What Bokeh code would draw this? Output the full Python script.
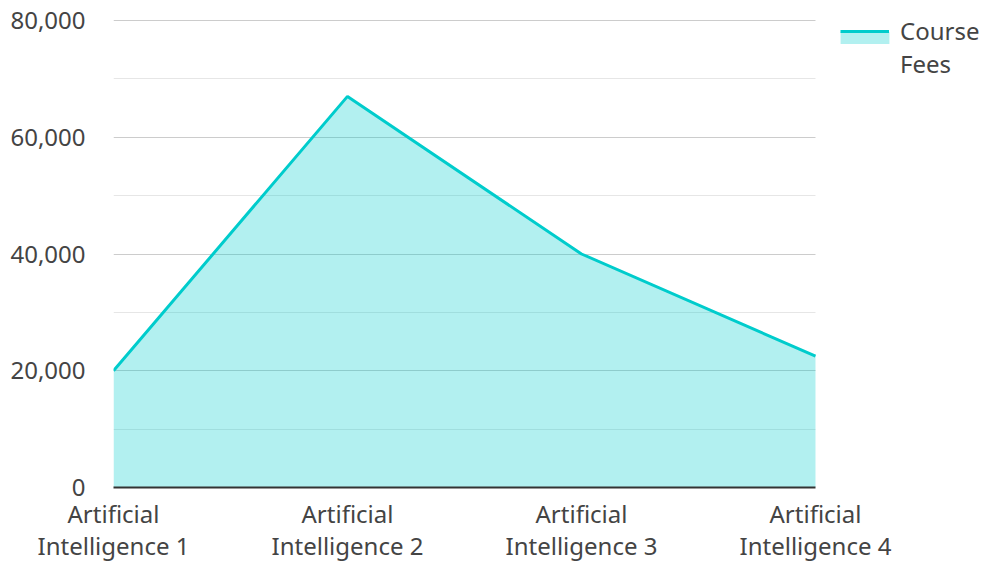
from bokeh.plotting import figure
from bokeh.models import ColumnDataSource, FixedTicker, NumeralTickFormatter, Legend, LegendItem, Range1d
from bokeh.embed import file_html
from bokeh.resources import INLINE

categories = ["Artificial\nIntelligence 1", "Artificial\nIntelligence 2",
              "Artificial\nIntelligence 3", "Artificial\nIntelligence 4"]
course_fees = [20000, 67000, 40000, 22500]
y_ticks = [0, 20000, 40000, 60000, 80000]
y_minor = [10000, 30000, 50000, 70000]
series_name = "Course\nFees"

xs = list(range(len(categories)))
src = ColumnDataSource(dict(x=xs, y=course_fees, base=[0] * len(xs)))

# layout geometry (pixels)
LEFT = 113
FRAME_W = 870      # frame runs to the right edge so the legend can sit in it
DATA_W = 702       # width covered by the categories
FRAME_H = 487
DATA_H = 467       # height covered by 0..80000
x_end = (len(categories) - 1) * FRAME_W / DATA_W
y_end = y_ticks[-1] * FRAME_H / DATA_H

p = figure(frame_width=FRAME_W, frame_height=FRAME_H, output_backend="svg", toolbar_location=None,
           x_range=Range1d(0, x_end), y_range=Range1d(0, y_end),
           min_border_left=LEFT, min_border_top=0, min_border_right=0, min_border_bottom=0)
p.outline_line_color = None
p.background_fill_color = "white"

FONT = "Noto Sans"
LABEL_COLOR = "#444444"

# grids
p.xgrid.visible = False
p.ygrid.ticker = FixedTicker(ticks=y_ticks, minor_ticks=y_minor)
p.ygrid.cross_bounds = (0, len(categories) - 1)
p.ygrid.grid_line_color = "#cccccc"
p.ygrid.grid_line_width = 1
p.ygrid.minor_grid_line_color = "#e6e6e6"
p.ygrid.minor_grid_line_width = 1

# y axis
p.yaxis.ticker = FixedTicker(ticks=y_ticks, minor_ticks=[])
p.yaxis.formatter = NumeralTickFormatter(format="0,0")
p.yaxis.axis_line_color = None
p.yaxis.major_tick_line_color = None
p.yaxis.minor_tick_line_color = None
p.yaxis.major_label_standoff = 22
p.yaxis.major_label_text_font = FONT
p.yaxis.major_label_text_font_size = "24px"
p.yaxis.major_label_text_color = LABEL_COLOR

# x axis
p.xaxis.ticker = FixedTicker(ticks=xs, minor_ticks=[])
p.xaxis.bounds = (0, len(categories) - 1)
p.xaxis.major_label_overrides = {i: c for i, c in zip(xs, categories)}
p.xaxis.axis_line_color = "#333333"
p.xaxis.axis_line_width = 2
p.xaxis.major_tick_line_color = None
p.xaxis.minor_tick_line_color = None
p.xaxis.major_label_standoff = 3
p.xaxis.major_label_text_font = FONT
p.xaxis.major_label_text_font_size = "24px"
p.xaxis.major_label_text_line_height = 0.99
p.xaxis.major_label_text_color = LABEL_COLOR

LINE = "#00cccc"
area = p.varea(x="x", y1="base", y2="y", source=src, fill_color=LINE, fill_alpha=0.3)
line = p.line(x="x", y="y", source=src, line_color=LINE, line_width=3)

# invisible renderer used only to carry the legend text
ghost = p.line(x=[], y=[], line_alpha=0)

common = dict(orientation="vertical", border_line_color=None, background_fill_alpha=0,
              padding=0, margin=0, spacing=0)

# legend icon: fill patch below, line on top
leg_fill = Legend(items=[LegendItem(label=" ", renderers=[area])],
                  location=(721, 442.5), glyph_width=61, glyph_height=15,
                  label_height=15, label_standoff=0, label_text_font_size="1px", **common)
leg_line = Legend(items=[LegendItem(label=" ", renderers=[line])],
                  location=(727, 451), glyph_width=49, glyph_height=10,
                  label_height=10, label_standoff=0, label_text_font_size="1px", **common)
leg_text = Legend(items=[LegendItem(label=series_name, renderers=[ghost])],
                  location=(786, 400.5), glyph_width=1, glyph_height=80,
                  label_height=80, label_standoff=0, label_text_font=FONT,
                  label_text_font_size="24px", label_text_line_height=0.9,
                  label_text_color=LABEL_COLOR, **common)
for lg in (leg_fill, leg_line, leg_text):
    p.add_layout(lg, "center")

open("out.html", "w").write(file_html(p, INLINE))
